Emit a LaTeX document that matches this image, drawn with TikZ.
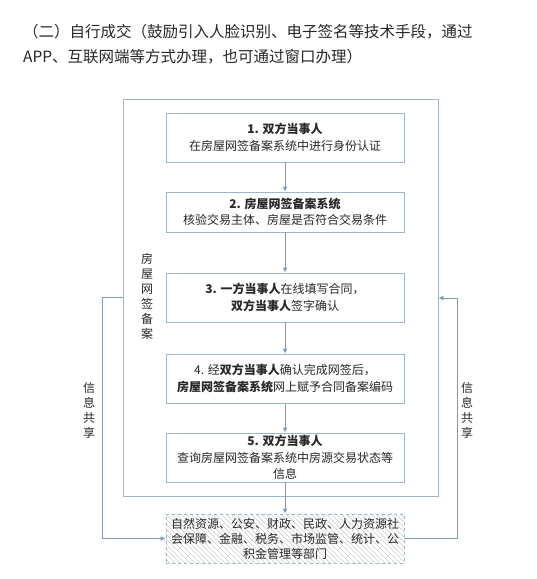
\documentclass[tikz,border=0pt]{standalone}
\usepackage{fontspec}
\setmainfont{Noto Sans CJK SC}
\usetikzlibrary{arrows.meta,backgrounds}
\definecolor{lineblue}{RGB}{122,156,192}
\definecolor{boxblue}{RGB}{160,182,204}
\definecolor{hatchgray}{RGB}{205,205,205}
\definecolor{txt}{RGB}{40,40,40}
\tikzset{
  stepbox/.style={draw=boxblue,line width=0.9pt,minimum width=238pt,align=center,
    font=\fontsize{12}{16.5}\selectfont,text=txt,inner sep=0pt},
  outerbox/.style={draw=boxblue,line width=0.9pt,minimum width=315pt,minimum height=397pt,inner sep=0pt},
  deptbox/.style={draw=boxblue,line width=0.9pt,dashed,minimum width=238pt,minimum height=49pt,
    align=center,font=\fontsize{12}{15}\selectfont,text=txt,inner sep=0pt},
  hatchline/.style={draw=hatchgray,line width=0.5pt},
  vlabel/.style={align=center,font=\fontsize{12}{15}\selectfont,text=txt,inner sep=0pt},
  conn/.style={draw=lineblue,line width=0.9pt,-{Latex[length=5pt,width=5pt]}},
  titletext/.style={anchor=west,font=\fontsize{15.5}{18}\selectfont,text=txt,inner sep=0pt}
}
\begin{document}
\begin{tikzpicture}[x=1pt,y=-1pt]
\useasboundingbox (0,0) rectangle (537,579);
\node[titletext] (t1) at (23,32) {（二）自行成交（鼓励引入人脸识别、电子签名等技术手段，通过};
\node[titletext] (t2) at (23,57) {APP、互联网端等方式办理，也可通过窗口办理）};
\node[outerbox] (outer) at (280.5,297.5) {};
\node[stepbox,minimum height=49pt] (s1) at (285,137.5) {\textbf{1. 双方当事人}\\在房屋网签备案系统中进行身份认证};
\node[stepbox,minimum height=40pt] (s2) at (285,212) {\textbf{2. 房屋网签备案系统}\\核验交易主体、房屋是否符合交易条件};
\node[stepbox,minimum height=49pt] (s3) at (285,297.5) {\textbf{3. 一方当事人}在线填写合同，\\\textbf{双方当事人}签字确认};
\node[stepbox,minimum height=49pt] (s4) at (285,378.5) {4. 经\textbf{双方当事人}确认完成网签后，\\\textbf{房屋网签备案系统}网上赋予合同备案编码};
\node[stepbox,minimum height=49pt] (s5) at (285,457.5) {\textbf{5. 双方当事人}\\查询房屋网签备案系统中房源交易状态等\\信息};
\node[deptbox] (dept) at (285,538.5) {自然资源、公安、财政、民政、人力资源社\\会保障、金融、税务、市场监管、统计、公\\积金管理等部门};
\begin{scope}[on background layer]
  \fill[white] (0,0) rectangle (537,579);
  \clip (dept.north west) rectangle (dept.south east);
  \foreach \i in {-55,-50,...,240} {
    \draw[hatchline] ([xshift=\i pt]dept.north west) -- ++(52,52);
  }
\end{scope}
\node[vlabel] (vl) at (147,296) {房\\屋\\网\\签\\备\\案};
\node[vlabel] (il) at (89,410) {信\\息\\共\\享};
\node[vlabel] (ir) at (467,410) {信\\息\\共\\享};
\coordinate (L1) at (102,297);
\coordinate (R1) at (457,298);
\draw[conn] (s1) -- (s2);
\draw[conn] (s2) -- (s3);
\draw[conn] (s3) -- (s4);
\draw[conn] (s4) -- (s5);
\draw[conn] (s5) -- (dept);
\draw[conn] (outer.west |- L1) -- (L1) |- (dept.west);
\draw[conn] (dept.east) -| (R1) -- (outer.east |- R1);
\end{tikzpicture}
\end{document}
